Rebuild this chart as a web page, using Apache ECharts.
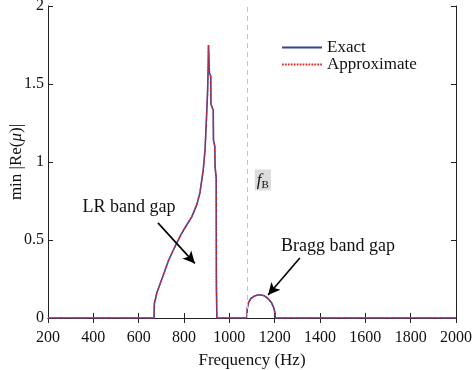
<!DOCTYPE html>
<html><head><meta charset="utf-8">
<script src="https://cdn.jsdelivr.net/npm/echarts@6/dist/echarts.min.js"></script>
<style>html,body{margin:0;padding:0;background:#fff}#c{width:474px;height:370px}</style>
</head><body><div id="c"></div>
<script>
// Frequency (Hz) samples and min|Re(mu)| values
const freqHz = [200, 668, 669, 680, 695, 715, 732, 761, 785, 805, 835, 857, 870, 885, 893, 900, 904, 907, 908, 910, 912, 918, 919, 929, 930, 936, 937, 942, 943, 945,
  1078, 1079, 1085, 1095, 1110, 1125, 1140, 1155, 1170, 1185, 1195, 1202, 1203, 2000];
const exactVals = [0, 0, 0.09, 0.16, 0.22, 0.30, 0.37, 0.46, 0.53, 0.58, 0.65, 0.73, 0.80, 0.95, 1.08, 1.31, 1.45, 1.63, 1.75, 1.75, 1.57, 1.55, 1.37, 1.33, 1.14, 1.10, 0.97, 0.90, 0.20, 0,
  0, 0.06, 0.10, 0.125, 0.14, 0.147, 0.148, 0.142, 0.125, 0.10, 0.07, 0.03, 0, 0];
const approxVals = exactVals.slice();
const fB = 1080;
const xTicks = {min: 200, max: 2000, interval: 200};
const yTicks = {min: 0, max: 2, interval: 0.5};

const font = 'Liberation Serif';
const chart = echarts.init(document.getElementById('c'));
const pair = (v) => freqHz.map((f, i) => [f, v[i]]);
// legend icons: solid bar and dotted bar
let dots = '';
for (let i = 0; i < 40; i += 3) dots += 'M' + i + ',0h1.8v2h-1.8z';
const solidIcon = 'path://M0,0h40v2h-40z';
const dotIcon = 'path://' + dots + 'M0,0h0.01v2h-0.01z';
const axisCommon = {
  axisLine: {show: true, lineStyle: {color: '#222', width: 1}},
  axisTick: {show: true, inside: true, length: 5, lineStyle: {color: '#222'}},
  splitLine: {show: false}
};
chart.setOption({
  animation: false,
  textStyle: {fontFamily: font},
  grid: {left: 48, right: 18, top: 6, bottom: 52, containLabel: false, outerBoundsMode: 'none'},
  legend: {
    left: 277, top: 34, orient: 'vertical', itemWidth: 40, itemHeight: 2, itemGap: 0,
    textStyle: {fontFamily: font, fontSize: 17, color: '#111', lineHeight: 15},
    data: [{name: 'Exact', icon: solidIcon}, {name: 'Approximate', icon: dotIcon}]
  },
  xAxis: [
    Object.assign({type: 'value', min: xTicks.min, max: xTicks.max, interval: xTicks.interval,
      name: 'Frequency (Hz)', nameLocation: 'middle', nameGap: 34, nameMoveOverlap: false,
      nameTextStyle: {fontFamily: font, fontSize: 17, color: '#111'},
      axisLabel: {fontFamily: font, fontSize: 16, color: '#111', margin: 12, formatter: (v) => String(v)}}, axisCommon),
    Object.assign({type: 'value', position: 'top', min: xTicks.min, max: xTicks.max, interval: xTicks.interval,
      axisLabel: {show: false}}, axisCommon)
  ],
  yAxis: [
    Object.assign({type: 'value', min: yTicks.min, max: yTicks.max, interval: yTicks.interval,
      name: 'min |Re({i|μ})|', nameLocation: 'middle', nameGap: 23, nameRotate: 90, nameMoveOverlap: false,
      nameTextStyle: {fontFamily: font, fontSize: 17, color: '#111',
        rich: {i: {fontFamily: font, fontStyle: 'italic', fontSize: 17, color: '#111'}}},
      axisLabel: {fontFamily: font, fontSize: 16, color: '#111', margin: 4, formatter: (v) => String(v)}}, axisCommon),
    Object.assign({type: 'value', position: 'right', min: yTicks.min, max: yTicks.max, interval: yTicks.interval,
      axisLabel: {show: false}}, axisCommon)
  ],
  series: [
    {
      name: 'Exact', type: 'line', data: pair(exactVals), showSymbol: false, symbol: 'none',
      lineStyle: {color: '#3443a0', width: 1.6}, itemStyle: {color: '#3443a0'}, z: 2,
      markLine: {
        silent: true, symbol: 'none', label: {show: false},
        lineStyle: {color: '#c4c4c4', type: [5, 4], width: 1},
        data: [{xAxis: fB}]
      },
      markPoint: {
        silent: true, symbol: 'rect', symbolSize: 0,
        data: [
          {coord: [1148, 0.885], label: {show: true, position: 'inside', formatter: '{f|f}{b|B}',
            backgroundColor: '#dcdcdc', padding: [2, 2, 0, 2],
            rich: {f: {fontFamily: font, fontStyle: 'italic', fontSize: 17, color: '#111'},
                   b: {fontFamily: font, fontSize: 11, color: '#111', verticalAlign: 'bottom', padding: [8, 0, 0, 0]}}}},
          {coord: [557, 0.71], label: {show: true, position: 'inside', formatter: 'LR band gap',
            fontFamily: font, fontSize: 18, color: '#111'}},
          {coord: [1479, 0.46], label: {show: true, position: 'inside', formatter: 'Bragg band gap',
            fontFamily: font, fontSize: 18, color: '#111'}}
        ]
      }
    },
    {
      name: 'Approximate', type: 'line', data: pair(approxVals), showSymbol: false, symbol: 'none',
      lineStyle: {color: '#e52a2a', width: 1.4, type: [1.5, 1.5]}, itemStyle: {color: '#e52a2a'}, z: 3,
      markLine: {
        silent: true, symbol: ['none', 'arrow'], symbolSize: [9, 12], label: {show: false},
        lineStyle: {color: '#000', type: 'solid', width: 1.6},
        data: [
          [{coord: [685, 0.61]}, {coord: [848, 0.35]}],
          [{coord: [1311, 0.385]}, {coord: [1171, 0.148]}]
        ]
      }
    }
  ]
});
</script></body></html>
